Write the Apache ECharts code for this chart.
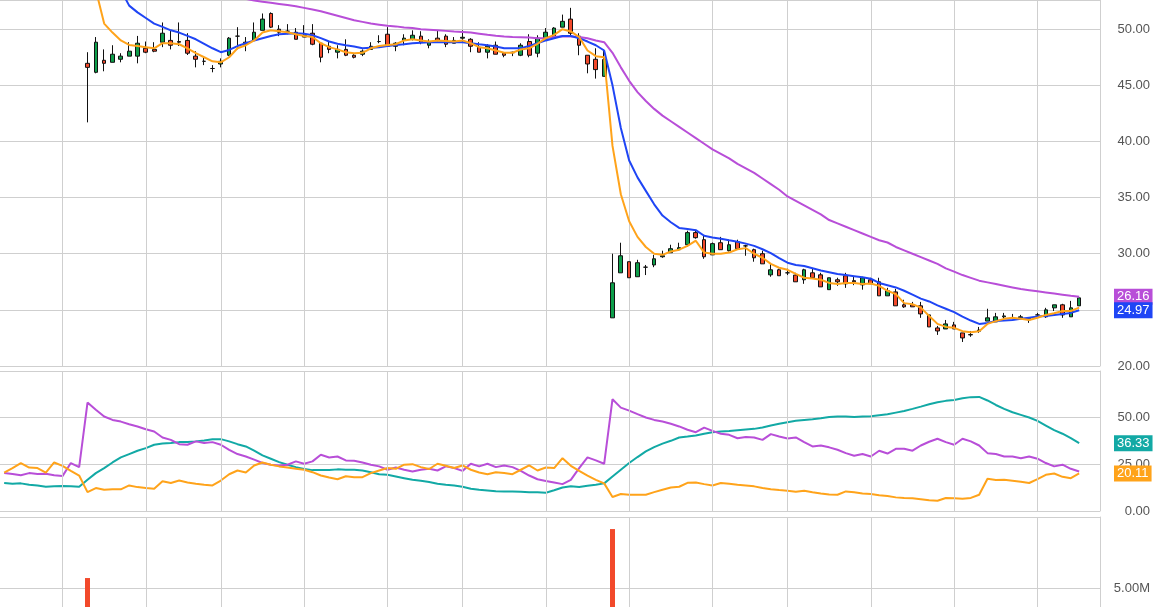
<!DOCTYPE html>
<html><head><meta charset="utf-8">
<script src="https://cdn.jsdelivr.net/npm/echarts@6/dist/echarts.min.js"></script>
<style>html,body{margin:0;padding:0;background:#fff}#c{width:1156px;height:607px}</style>
</head><body><div id="c"></div>
<script>
const N = 132;
const firstCandle = 10;
const opens = [46.96,46.16,47.23,47.05,47.32,47.6,47.6,48.3,48.2,48.84,49.0,48.9,49.0,47.6,47.14,46.5,46.9,47.68,49.38,48.84,49.0,49.9,51.4,50.0,49.82,49.73,49.3,49.64,48.75,48.48,47.95,48.2,47.68,47.77,48.2,48.9,49.55,48.48,49.0,49.1,49.38,48.57,49.2,49.38,48.75,49.2,49.1,48.4,47.95,48.57,47.86,47.9,47.68,48.9,47.86,49.0,49.2,50.18,50.9,49.38,47.68,47.32,45.8,24.29,28.3,29.29,27.95,28.8,29.0,29.73,30.09,30.36,30.8,31.88,31.25,29.9,30.98,30.27,31.07,30.7,30.36,30.0,28.12,28.57,28.3,28.1,27.68,28.3,28.12,26.8,27.68,28.04,27.6,27.23,27.68,27.5,26.25,26.6,25.45,25.45,25.36,24.55,23.39,23.3,23.66,22.95,22.8,23.1,24.0,23.93,24.38,24.3,24.3,24.11,24.55,24.38,25.18,25.45,24.38,25.36];
const closes = [46.6,48.84,46.96,47.77,47.6,48.04,48.75,47.95,48.04,49.64,48.57,48.84,47.86,47.32,47.14,46.5,47.14,49.2,49.38,48.66,49.73,50.9,50.18,49.73,49.82,49.1,49.46,48.66,47.5,48.2,48.2,47.68,47.5,48.04,48.48,48.9,48.48,48.75,49.2,49.46,48.84,48.9,49.0,48.66,49.0,49.28,48.48,47.95,48.48,47.77,47.68,47.95,48.57,47.68,49.2,49.73,50.1,50.7,49.64,48.57,46.9,46.4,47.3,27.41,29.82,27.86,29.2,28.8,29.55,29.82,30.45,30.54,31.88,31.43,29.73,30.9,30.36,30.8,30.45,30.7,29.64,29.1,28.57,28.04,28.3,27.5,28.57,27.86,27.05,27.86,27.5,27.32,27.5,27.86,27.32,26.25,26.7,25.36,25.27,25.27,24.64,23.48,23.12,23.75,23.3,22.5,22.77,23.2,24.29,24.38,24.46,24.29,24.38,24.29,24.55,25.0,25.45,24.55,25.18,26.07];
const lows = [41.7,46.07,46.25,47.05,47.05,47.6,46.96,47.86,47.95,48.4,48.2,48.5,47.7,46.6,46.8,46.16,46.6,47.6,48.2,48.04,49.0,49.9,50.1,49.38,49.55,49.1,49.3,48.57,47.05,47.86,47.4,47.6,47.4,47.6,48.2,48.75,48.48,48.04,48.57,49.0,48.66,48.3,48.9,48.4,48.75,48.84,47.95,47.95,47.4,47.77,47.5,47.6,47.6,47.5,47.5,49.0,49.2,50.18,49.38,47.68,46.07,45.6,45.8,24.29,28.3,27.86,27.95,28.1,28.8,29.64,30.09,30.27,30.63,31.34,29.55,29.9,30.36,30.2,30.36,29.82,29.29,29.1,27.95,28.04,28.1,27.5,27.32,27.77,27.05,26.8,27.14,26.96,27.2,26.8,27.32,26.25,26.25,25.36,25.18,25.27,24.29,23.48,22.77,23.3,23.3,22.14,22.6,22.95,24.0,23.93,24.2,24.2,24.2,23.84,24.29,24.29,24.9,24.29,24.38,25.36];
const highs = [47.95,49.3,48.2,48.57,47.86,48.84,49.4,48.9,48.84,50.6,49.9,50.6,49.64,48.04,47.5,46.8,47.4,49.3,50.18,49.3,50.6,51.4,51.5,50.36,50.45,50.1,50.36,50.45,48.75,48.9,48.57,49.1,47.77,48.2,48.84,49.46,50.18,48.84,49.55,49.9,49.82,49.1,49.9,49.55,49.3,49.9,49.2,48.84,48.66,48.9,47.95,48.0,48.75,49.55,49.46,50.1,50.18,51.3,51.9,49.64,47.68,48.3,48.2,30.0,30.98,29.29,29.46,29.0,29.9,30.27,30.8,30.98,32.05,32.14,31.6,31.0,31.5,31.25,31.25,30.8,30.45,30.27,29.1,28.66,28.66,28.3,28.66,28.66,28.3,27.86,27.86,28.3,28.0,27.95,27.86,27.86,26.96,26.87,25.9,25.71,25.71,24.55,23.57,24.1,23.93,22.95,23.12,23.48,25.1,24.73,24.73,24.64,24.55,24.29,24.73,25.18,25.45,25.54,25.8,26.07];

const maFast = ['-','-','-','-','-','-','-','-','-','-',56,53.5,50.5,49.7,49.0,48.6,48.5,48.4,48.3,48.75,48.75,48.66,48.3,47.86,47.5,47.14,47.05,47.5,48.3,48.57,49.0,49.7,49.9,49.82,49.73,49.55,49.4,49.3,48.75,48.4,48.2,47.95,47.86,47.9,48.3,48.5,48.6,48.66,49.0,49.1,49.0,48.9,49.0,48.95,48.9,49.0,48.75,48.4,48.3,48.1,47.9,47.9,48.2,48.3,48.7,49.2,49.5,50.0,49.8,49.3,48.1,47.6,47.5,39.6,35.3,32.9,31.5,30.6,30.0,29.9,30.2,30.36,30.7,31.16,30.1,30.0,30.0,30.1,30.4,30.5,30.0,29.64,29.1,28.75,28.57,28.2,27.86,27.8,27.68,27.4,27.3,27.4,27.4,27.3,27.35,27.14,26.7,26.4,25.6,25.5,25.2,24.46,23.75,23.48,23.4,23.1,23.0,23.1,23.75,24.0,24.2,24.3,24.2,24.1,24.3,24.55,24.7,24.9,24.9,25.2,'-','-'];
const maMid = ['-','-','-','-','-','-','-','-','-','-','-','-','-','-',53.5,52.1,51.5,51.0,50.5,50.2,49.9,49.7,49.4,49.1,48.7,48.3,47.95,48.15,48.5,48.75,49.0,49.2,49.4,49.55,49.6,49.64,49.6,49.46,49.2,48.9,48.7,48.57,48.45,48.3,48.35,48.4,48.5,48.6,48.65,48.75,48.8,48.84,48.84,48.84,48.84,48.84,48.75,48.65,48.57,48.45,48.3,48.3,48.3,48.5,48.75,49.0,49.2,49.4,49.4,49.2,48.9,48.57,48.1,45.0,41.2,38.3,36.8,35.6,34.4,33.4,32.8,32.3,32.2,32.1,31.6,31.45,31.34,31.2,31.07,30.9,30.7,30.4,30.05,29.6,29.2,29.0,28.9,28.7,28.5,28.35,28.2,28.1,28.0,27.9,27.77,27.4,27.2,27.0,26.7,26.35,26.0,25.75,25.4,25.1,24.8,24.4,24.05,23.75,23.84,24.0,24.05,24.1,24.2,24.3,24.4,24.46,24.55,24.64,24.73,24.97,'-','-'];
const maSlow = ['-','-','-','-','-','-','-','-','-','-','-','-','-','-','-','-','-','-','-','-','-','-','-','-','-','-','-','-',52.85,52.7,52.55,52.45,52.35,52.25,52.15,52.05,51.9,51.75,51.6,51.4,51.2,51.0,50.8,50.65,50.5,50.4,50.3,50.25,50.15,50.1,50.0,49.95,49.9,49.85,49.8,49.76,49.7,49.6,49.5,49.42,49.35,49.3,49.28,49.25,49.2,49.2,49.3,49.38,49.35,49.3,49.2,49.0,48.84,47.9,46.6,45.4,44.4,43.6,42.9,42.3,41.8,41.3,40.8,40.3,39.8,39.3,38.9,38.5,38.0,37.6,37.2,36.7,36.2,35.7,35.1,34.7,34.3,33.9,33.5,33.0,32.7,32.4,32.1,31.8,31.5,31.2,31.0,30.6,30.3,30.0,29.7,29.4,29.1,28.7,28.4,28.1,27.85,27.6,27.45,27.3,27.15,27.0,26.85,26.75,26.65,26.55,26.45,26.35,26.25,26.16,'-','-'];

const adx = [15.0,14.6,14.8,14.1,13.7,13.0,13.2,13.4,13.2,13.0,16.7,20.3,23.0,26.0,28.7,30.5,32.3,33.7,35.5,36.1,36.4,36.9,36.9,37.3,37.8,38.4,38.5,37.3,35.8,34.6,32.3,29.8,28.0,26.2,24.8,23.5,22.5,21.9,21.9,21.9,22.3,22.1,22.1,21.7,20.8,19.7,19.4,18.5,17.6,16.7,16.2,15.5,14.6,14.1,13.7,13.0,11.9,11.4,11.0,10.6,10.5,10.5,10.3,10.1,10.1,9.8,11.1,12.6,13.2,12.8,13.5,14.1,14.8,18.5,22.1,25.7,28.9,31.9,34.2,36.1,37.6,39.4,39.9,40.5,41.4,42.2,42.6,42.9,43.3,43.7,44.0,44.7,45.8,46.7,47.6,48.3,48.8,49.2,49.7,50.3,50.6,50.6,50.4,50.6,50.8,51.3,51.8,52.7,53.6,54.7,55.9,57.2,58.3,59.0,59.5,60.4,61.0,61.1,59.2,56.8,54.7,52.9,51.5,50.1,48.3,45.8,43.3,41.4,39.0,36.33,'-','-'];
const minusDI = [20.3,19.8,19.2,20.3,19.8,20.0,19.2,18.7,25.7,23.5,58.1,54.2,50.6,48.8,47.9,46.5,45.3,43.8,42.6,39.4,38.1,35.8,35.5,37.3,36.4,36.9,35.5,32.8,30.5,29.2,27.5,25.7,24.8,24.4,24.8,26.6,25.3,26.6,30.1,28.7,29.2,27.1,26.9,26.0,24.8,23.9,22.1,23.3,22.1,21.2,22.1,22.6,21.7,23.9,23.0,21.5,25.3,23.9,25.3,23.5,24.4,23.5,21.5,19.0,17.0,16.1,15.3,14.4,16.7,23.0,28.7,27.1,25.3,59.9,55.4,53.8,51.9,50.1,48.8,47.9,46.7,45.3,43.5,42.2,44.7,42.9,41.4,40.8,39.0,39.6,39.4,38.1,41.2,39.9,38.8,39.4,36.9,34.6,35.1,34.1,32.8,31.0,29.6,30.5,29.2,32.3,30.8,33.3,33.3,32.3,35.1,37.1,38.7,36.9,35.5,38.7,37.3,35.1,31.0,30.5,29.2,29.2,28.3,29.2,28.0,25.7,23.9,24.8,22.6,21.2,'-','-'];
const plusDI = [20.6,23.0,25.7,23.3,23.0,20.6,26.0,24.2,21.5,19.0,10.1,12.3,11.4,11.7,11.6,13.7,12.8,12.3,11.9,15.9,15.0,16.3,15.3,14.6,14.1,13.7,16.3,19.7,21.7,20.6,24.4,26.0,24.8,23.9,23.3,22.6,22.1,20.8,19.0,17.9,17.0,18.6,18.1,18.1,20.3,21.7,23.0,22.6,24.8,25.1,23.5,22.5,25.3,24.2,23.0,24.4,22.1,20.6,19.7,20.8,20.3,19.7,22.1,24.4,21.7,23.3,23.0,28.3,24.2,21.5,19.0,16.7,14.8,7.5,9.1,8.7,8.7,8.7,10.1,11.4,12.6,13.0,15.1,15.3,14.4,13.7,15.0,14.6,14.1,13.7,13.2,12.3,11.6,11.2,10.9,10.3,10.9,10.1,9.4,8.9,8.7,10.5,10.0,9.4,9.1,8.4,8.0,7.3,7.0,6.8,6.3,5.7,5.5,7.0,6.8,6.6,7.0,8.7,17.3,16.6,16.7,16.2,15.7,15.0,17.1,19.4,20.1,18.3,17.6,20.11,'-','-'];

const volumes = [1.6,1.2,1.9,1.4,2.1,1.3,1.1,1.8,1.5,2.2,5.7,2.6,1.9,1.4,1.2,1.5,1.7,1.3,1.1,1.6,1.4,1.2,1.5,1.3,1.0,1.1,1.2,1.8,1.4,1.2,1.3,1.6,1.5,1.1,1.0,1.2,1.1,1.3,1.7,1.2,1.1,1.2,0.9,1.0,1.1,1.0,1.4,1.1,1.0,1.1,1.2,1.0,1.1,1.3,0.9,1.0,1.2,1.1,1.0,1.2,0.9,0.8,1.3,1.5,1.6,1.4,1.5,1.9,2.1,1.8,2.4,2.2,2.5,9.15,2.8,2.1,1.7,1.3,1.2,1.0,1.1,1.2,1.6,1.3,1.8,1.5,1.4,1.2,1.3,1.0,1.2,1.3,1.4,1.1,1.0,1.2,1.3,1.1,1.2,1.0,0.9,1.1,0.9,1.0,0.9,1.3,1.0,1.4,1.1,1.0,1.3,1.5,1.2,1.0,1.1,1.6,1.0,1.1,1.4,1.0,0.9,0.8,0.9,0.8,0.9,1.1,1.0,1.2,1.3,1.4,'-','-'];
const volTicks = [5e6, 10e6];

const dateTickIdx = [7,17,26,36,46,55,65,75,85,94,104,114,124];

const cats = Array.from({length:N},(_,i)=>String(i));
const candles = cats.map((_,i)=>{
  const k=i-firstCandle;
  if(k<0||k>=opens.length) return '-';
  return [opens[k],closes[k],lows[k],highs[k]];
});
const volData = volumes.map(v=> v==='-'?'-':v*1e6);

const C = {green:'#0d9e4a', red:'#f2492b', orange:'#ffa31a', blue:'#1f45f5', purple:'#b84ed8', teal:'#12a9a5', grid:'#cfcfcf', txt:'#555'};

function vLines(){ return dateTickIdx.map(i=>({xAxis:i, lineStyle:{color:C.grid,width:1,type:'solid'}, label:{show:false}})); }
const lastOf = a=>{for(let i=a.length-1;i>=0;i--) if(a[i]!=='-') return a[i];};
function tagSeries(v,col,gi){
  return {type:'line',xAxisIndex:gi,yAxisIndex:gi,data:[],silent:true,clip:false,z:10,
    markLine:{silent:true,symbol:'none',animation:false,
      lineStyle:{color:'rgba(0,0,0,0)',width:0},
      label:{show:true,position:'end',distance:14,formatter:v.toFixed(2),color:'#fff',backgroundColor:col,padding:[2,3,1,3],fontSize:13,fontFamily:'Arial, Liberation Sans'},
      data:[{yAxis:v}]}};
}

const grids=[{left:0,right:56,top:0,height:366},{left:0,right:56,top:371,height:140},{left:0,right:56,top:517,height:90}];
const xAx = [0,1,2].map(g=>({type:'category',gridIndex:g,data:cats,boundaryGap:true,axisLine:{show:false},axisTick:{show:false},axisLabel:{show:false},splitLine:{show:false}}));
const baseY = {position:'right',axisLine:{show:true,lineStyle:{color:C.grid}},axisTick:{show:false},splitLine:{show:true,lineStyle:{color:C.grid}},axisLabel:{color:C.txt,fontSize:13,align:'right',margin:50,showMaxLabel:false,fontFamily:'Arial, Liberation Sans'}};
const yAx = [
  Object.assign({},baseY,{type:'value',gridIndex:0,min:20,max:52.6,interval:5,axisLabel:Object.assign({},baseY.axisLabel,{formatter:v=>v.toFixed(2)})}),
  Object.assign({},baseY,{type:'value',gridIndex:1,min:0,max:75,interval:25,axisLabel:Object.assign({},baseY.axisLabel,{formatter:v=>v.toFixed(2)})}),
  Object.assign({},baseY,{type:'value',gridIndex:2,min:3.66e6,max:10e6,
     axisTick:{show:false,customValues:volTicks},
     axisLabel:Object.assign({},baseY.axisLabel,{customValues:[volTicks[0]],formatter:v=>(v/1e6).toFixed(2)+'M'})})
];
function line(name,data,col,xi,extra){ return Object.assign({type:'line',name,data,xAxisIndex:xi,yAxisIndex:xi,symbol:'none',smooth:false,lineStyle:{color:col,width:2},itemStyle:{color:col},connectNulls:false,silent:true,clip:true},extra||{}); }

const option = {
  animation:false, backgroundColor:'#fff',
  grid:grids, xAxis:xAx, yAxis:yAx,
  series:[
    {type:'candlestick',data:candles,xAxisIndex:0,yAxisIndex:0,barMaxWidth:6,clip:true,
     itemStyle:{color:C.green,color0:C.red,borderColor:'#111',borderColor0:'#111',borderWidth:1},
     markLine:{silent:true,symbol:'none',data:vLines(),z:0}},
    line('slow',maSlow,C.purple,0),
    line('mid',maMid,C.blue,0),
    line('fast',maFast,C.orange,0),
    line('adx',adx,C.teal,1,{markLine:{silent:true,symbol:'none',data:vLines()}}),
    line('minusDI',minusDI,C.purple,1),
    line('plusDI',plusDI,C.orange,1),
    {type:'bar',data:volData,xAxisIndex:2,yAxisIndex:2,barWidth:5,itemStyle:{color:C.red},silent:true,clip:true,
     markLine:{silent:true,symbol:'none',data:vLines()}},
    tagSeries(lastOf(maSlow),C.purple,0),
    tagSeries(lastOf(maMid),C.blue,0),
    tagSeries(lastOf(adx),C.teal,1),
    tagSeries(lastOf(plusDI),C.orange,1)
  ]
};
echarts.init(document.getElementById('c')).setOption(option);
</script></body></html>
